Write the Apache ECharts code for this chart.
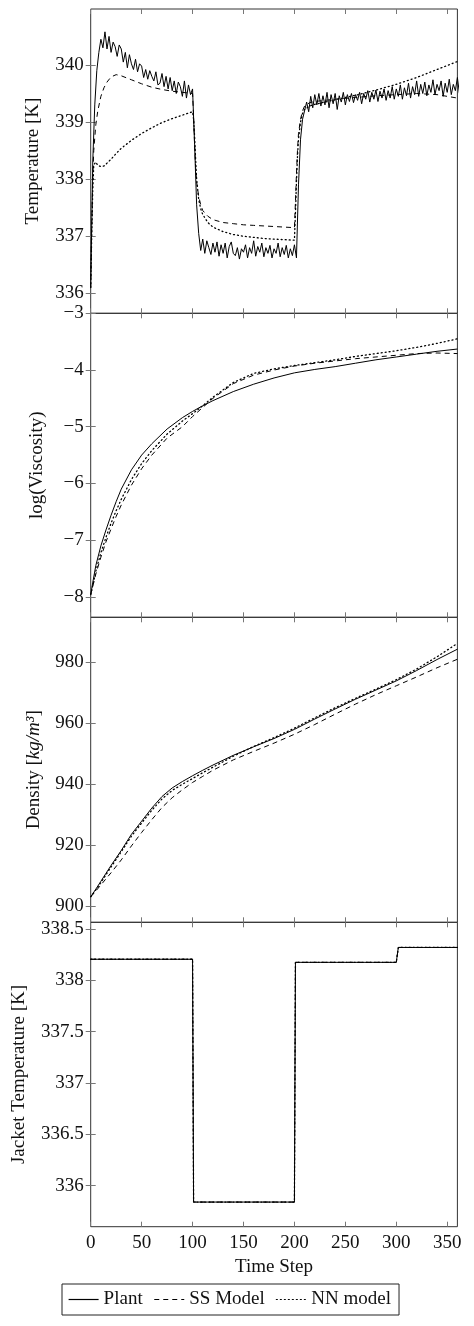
<!DOCTYPE html>
<html>
<head>
<meta charset="utf-8">
<script src="https://cdn.jsdelivr.net/npm/echarts@6/dist/echarts.min.js"></script>
<style>
  html, body { margin: 0; padding: 0; background: #fff; }
  #chart { width: 474px; height: 1326px; }
</style>
</head>
<body>
<div id="chart"></div>
<script>
// ---- reactor temperature ----
// plant measurement, one value every 2 time steps starting at 0
const plantTempStep = 2;
const plantTemp = [
  336.10, 338.30, 339.30, 339.90, 340.22, 340.45, 340.30, 340.58, 340.28, 340.50,
  340.22, 340.40, 340.32, 340.15, 340.35, 340.28, 340.05, 340.22, 339.95, 340.18,
  340.02, 339.92, 340.10, 339.88, 340.02, 339.98, 339.78, 339.92, 339.75, 339.90,
  339.80, 339.72, 339.88, 339.65, 339.68, 339.85, 339.62, 339.80, 339.58, 339.78,
  339.55, 339.72, 339.50, 339.70, 339.62, 339.45, 339.72, 339.42, 339.65, 339.48,
  339.58,
  338.60, 337.55, 337.05, 336.75, 336.95, 336.70, 336.92, 336.80, 336.68, 336.88,
  336.72, 336.90, 336.65, 336.85, 336.70, 336.88, 336.62, 336.82, 336.90, 336.70,
  336.66, 336.80, 336.60, 336.78, 336.72, 336.85, 336.62, 336.80, 336.70, 336.92,
  336.65, 336.82, 336.72, 336.88, 336.64, 336.80, 336.70, 336.84, 336.62, 336.78,
  336.70, 336.88, 336.64, 336.80, 336.68, 336.84, 336.62, 336.78, 336.66, 336.85,
  336.62,
  337.90, 338.70, 339.05, 339.20, 339.35, 339.18, 339.45, 339.25, 339.48, 339.30,
  339.50, 339.28, 339.46, 339.30, 339.52, 339.25, 339.48, 339.32, 339.50, 339.22,
  339.46, 339.35, 339.52, 339.30, 339.48, 339.36, 339.50, 339.34, 339.48, 339.38,
  339.52, 339.32, 339.50, 339.40, 339.55, 339.35, 339.52, 339.40, 339.56, 339.36,
  339.54, 339.42, 339.58, 339.38, 339.55, 339.42, 339.62, 339.40, 339.58, 339.45,
  339.65, 339.40, 339.60, 339.46, 339.68, 339.42, 339.62, 339.48, 339.72, 339.45,
  339.66, 339.50, 339.70, 339.46, 339.65, 339.52, 339.74, 339.48, 339.66, 339.55,
  339.72, 339.45, 339.68, 339.52, 339.75, 339.48, 339.66, 339.55, 339.78, 339.50
];
const modelTempT = [0, 1, 2, 3, 5, 7, 10, 13, 16, 20, 25, 30, 40, 50, 60, 70, 80, 90, 100,
  101, 102, 103, 104, 106, 108, 110, 115, 120, 130, 140, 150, 160, 170, 180, 190, 200,
  201, 202, 203, 204, 206, 208, 210, 215, 220, 230, 240, 260, 280, 300, 320, 340, 360];
const ssTemp = [336.10, 337.20, 338.00, 338.50, 338.95, 339.20, 339.45, 339.60, 339.70, 339.79,
  339.83, 339.81, 339.74, 339.67, 339.61, 339.57, 339.54, 339.52, 339.50,
  339.10, 338.60, 338.20, 337.95, 337.70, 337.55, 337.45, 337.35, 337.29, 337.24, 337.22,
  337.20, 337.19, 337.18, 337.17, 337.16, 337.15,
  337.60, 338.10, 338.50, 338.80, 339.05, 339.20, 339.28, 339.34, 339.36, 339.38, 339.40,
  339.43, 339.46, 339.48, 339.50, 339.48, 339.42];
const nnTemp = [336.10, 337.00, 337.80, 338.25, 338.30, 338.24, 338.22, 338.23, 338.28, 338.35,
  338.45, 338.54, 338.68, 338.80, 338.90, 338.99, 339.06, 339.12, 339.18,
  339.05, 338.75, 338.35, 338.00, 337.65, 337.48, 337.38, 337.24, 337.16, 337.08, 337.03,
  337.00, 336.98, 336.96, 336.95, 336.94, 336.93,
  337.40, 337.95, 338.40, 338.70, 339.00, 339.15, 339.22, 339.28, 339.31, 339.35, 339.39,
  339.47, 339.56, 339.66, 339.78, 339.92, 340.06];

// ---- log(viscosity) ----
const viscT = [0, 2, 5, 10, 15, 20, 25, 30, 40, 50, 60, 75, 90, 100, 110, 120, 140, 160, 180,
  200, 220, 240, 260, 280, 300, 320, 340, 360];
const plantVisc = [-7.96, -7.75, -7.45, -7.10, -6.82, -6.56, -6.32, -6.10, -5.76, -5.50, -5.30,
  -5.04, -4.84, -4.73, -4.63, -4.54, -4.38, -4.25, -4.14, -4.05, -3.99, -3.94, -3.88, -3.82,
  -3.77, -3.72, -3.67, -3.63];
const ssVisc = [-7.96, -7.82, -7.60, -7.30, -7.03, -6.80, -6.58, -6.38, -6.03, -5.74, -5.50,
  -5.20, -5.00, -4.82, -4.66, -4.50, -4.24, -4.09, -4.00, -3.93, -3.88, -3.84, -3.80, -3.77,
  -3.74, -3.71, -3.70, -3.71];
const nnVisc = [-7.96, -7.80, -7.55, -7.22, -6.95, -6.70, -6.48, -6.28, -5.93, -5.65, -5.42,
  -5.13, -4.90, -4.77, -4.63, -4.48, -4.22, -4.06, -3.98, -3.92, -3.87, -3.82, -3.76, -3.71,
  -3.66, -3.60, -3.53, -3.45];

// ---- density ----
const densT = [0, 5, 10, 20, 30, 40, 50, 60, 70, 80, 90, 100, 110, 120, 140, 160, 180, 200,
  220, 240, 260, 280, 300, 320, 340, 360];
const plantDens = [903.1, 905.6, 908.2, 913.4, 918.3, 923.6, 927.9, 932.2, 936.0, 938.8, 940.9,
  942.8, 944.6, 946.3, 949.5, 952.3, 955.0, 958.0, 961.4, 964.7, 967.9, 970.9, 973.9, 977.3,
  980.9, 984.3];
const ssDens = [903.1, 905.0, 907.0, 911.0, 915.2, 919.8, 924.2, 928.4, 932.4, 935.6, 938.2,
  940.6, 942.6, 944.6, 948.0, 950.8, 953.5, 956.4, 959.6, 963.0, 966.3, 969.4, 972.3, 975.2,
  978.2, 981.0];
const nnDens = [903.1, 905.4, 907.8, 912.9, 917.9, 923.0, 927.3, 931.5, 935.2, 938.0, 940.0,
  941.9, 943.8, 945.6, 949.2, 952.4, 955.3, 958.4, 961.8, 965.1, 968.2, 971.2, 974.3, 977.8,
  981.8, 986.2];

// ---- jacket temperature (input, same for all three) ----
const jacketT = [0, 100, 101, 200, 201, 300, 302, 360];
const jacketTemp = [338.205, 338.205, 335.84, 335.84, 338.175, 338.175, 338.32, 338.32];

// ---- ticks ----
const xTicks = [0, 50, 100, 150, 200, 250, 300, 350];
const tempTicks = [336, 337, 338, 339, 340];
const viscTicks = [-8, -7, -6, -5, -4, -3];
const densTicks = [900, 920, 940, 960, 980];
const jacketTicks = [336, 336.5, 337, 337.5, 338, 338.5];

const seriesNames = ['Plant', 'SS Model', 'NN model'];

const FONT = 'Liberation Serif';
const zip = (xs, ys) => xs.map((x, i) => [x, ys[i]]);
const plantTempT = plantTemp.map((_, i) => i * plantTempStep);

const panels = [
  { top: 9, height: 304.3, min: 335.65, max: 340.98, ticks: tempTicks,
    name: 'Temperature [K]', gap: 48,
    data: [zip(plantTempT, plantTemp), zip(modelTempT, ssTemp), zip(modelTempT, nnTemp)] },
  { top: 313.3, height: 304, min: -8.36, max: -3, ticks: viscTicks,
    name: 'log(Viscosity)', gap: 44,
    data: [zip(viscT, plantVisc), zip(viscT, ssVisc), zip(viscT, nnVisc)] },
  { top: 617.3, height: 305, min: 894.75, max: 994.75, ticks: densTicks,
    name: 'Density [{i|kg/m³}]', gap: 47,
    data: [zip(densT, plantDens), zip(densT, ssDens), zip(densT, nnDens)] },
  { top: 922.3, height: 304.4, min: 335.6, max: 338.565, ticks: jacketTicks,
    name: 'Jacket Temperature [K]', gap: 62,
    data: [zip(jacketT, jacketTemp), zip(jacketT, jacketTemp), zip(jacketT, jacketTemp)] }
];

const lineTypes = ['solid', [5, 4], [1, 3]];
const tickStyle = { show: true, inside: true, length: 5, lineStyle: { color: '#777', width: 1 } };
const labelStyle = { fontFamily: FONT, fontSize: 19, color: '#111' };

const grid = [], xAxis = [], yAxis = [], series = [];
panels.forEach((p, i) => {
  grid.push({ left: 90.7, right: 16.6, top: p.top, height: p.height,
    show: true, borderColor: '#333', borderWidth: 1, backgroundColor: 'transparent' });
  const last = i === panels.length - 1;
  ['bottom', 'top'].forEach(pos => {
    xAxis.push({
      type: 'value', gridIndex: i, position: pos, min: 0, max: 360,
      axisLine: { show: false },
      axisTick: Object.assign({ customValues: xTicks }, tickStyle),
      axisLabel: Object.assign({ show: last && pos === 'bottom', margin: 7, customValues: xTicks }, labelStyle),
      splitLine: { show: false },
      name: last && pos === 'bottom' ? 'Time Step' : '',
      nameLocation: 'middle', nameGap: 31,
      nameTextStyle: labelStyle
    });
  });
  ['left', 'right'].forEach(pos => {
    yAxis.push({
      type: 'value', gridIndex: i, position: pos, min: p.min, max: p.max,
      axisLine: { show: false },
      axisTick: Object.assign({ customValues: p.ticks }, tickStyle),
      axisLabel: Object.assign({
        show: pos === 'left', margin: 7, customValues: p.ticks,
        formatter: v => String(v).replace('-', '\u2212')
      }, labelStyle),
      splitLine: { show: false },
      name: pos === 'left' ? p.name : '',
      nameLocation: 'middle', nameGap: p.gap,
      nameTextStyle: Object.assign({
        rich: { i: { fontFamily: FONT, fontSize: 19, fontStyle: 'italic', color: '#111' } }
      }, labelStyle)
    });
  });
  p.data.forEach((d, k) => {
    series.push({
      name: seriesNames[k], type: 'line', xAxisIndex: 2 * i, yAxisIndex: 2 * i,
      data: d, symbol: 'none', showSymbol: false, clip: true,
      lineStyle: { color: '#000', width: k === 2 ? 1.3 : 1, type: lineTypes[k], cap: k === 2 ? 'round' : 'butt' },
      itemStyle: { color: '#000' }
    });
  });
});

const chart = echarts.init(document.getElementById('chart'));
chart.setOption({
  animation: false,
  backgroundColor: '#fff',
  grid, xAxis, yAxis, series,
  legend: {
    data: seriesNames, left: 62, top: 1284, orient: 'horizontal',
    itemWidth: 30, itemHeight: 10, itemGap: 11,
    padding: [6, 8, 6, 6],
    borderColor: '#222', borderWidth: 1,
    itemStyle: { opacity: 0 },
    lineStyle: { width: 1.2 },
    textStyle: labelStyle,
    selectedMode: false
  }
});
</script>
</body>
</html>
